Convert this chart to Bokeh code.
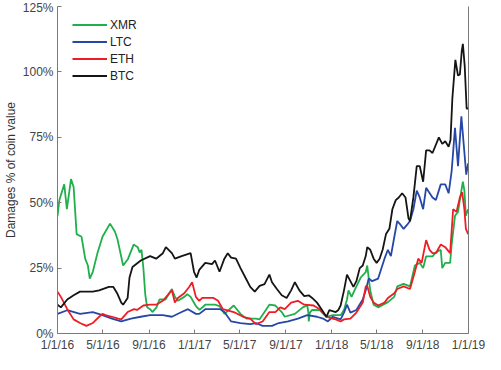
import pandas as pd
from bokeh.plotting import figure
from bokeh.models import (Range1d, FixedTicker, CustomJSTickFormatter, LinearAxis,
                          Legend, LegendItem)
from bokeh.embed import file_html
from bokeh.resources import INLINE

# ---------------- data (percent of coin value) ----------------
xmr_dates = ["2016-01-01","2016-01-06","2016-01-19","2016-01-26","2016-02-06","2016-02-13","2016-02-21",
             "2016-03-05","2016-03-15","2016-03-22","2016-03-27","2016-04-04","2016-04-17","2016-04-30",
             "2016-05-20","2016-06-02","2016-06-09","2016-06-24","2016-07-07","2016-07-22","2016-08-02",
             "2016-08-07","2016-08-12","2016-08-17","2016-08-22","2016-08-27","2016-09-04","2016-09-10",
             "2016-09-21","2016-09-29","2016-10-15","2016-11-01","2016-11-09","2016-11-17","2016-12-04",
             "2016-12-12","2016-12-21","2017-01-04","2017-01-14","2017-01-29","2017-02-24","2017-03-08",
             "2017-03-21","2017-04-15","2017-05-03","2017-05-19","2017-06-13","2017-06-23","2017-07-19",
             "2017-08-04","2017-08-21","2017-08-29","2017-09-25","2017-10-16","2017-10-28","2017-10-31",
             "2017-11-01","2017-11-04","2017-11-10","2017-11-30","2017-12-18","2018-01-04","2018-01-25",
             "2018-02-03","2018-02-11","2018-02-15","2018-02-23","2018-03-08","2018-03-20","2018-04-02",
             "2018-04-06","2018-04-10","2018-04-14","2018-04-23","2018-05-05","2018-05-31","2018-06-17",
             "2018-06-25","2018-07-12","2018-07-29","2018-08-11","2018-08-24","2018-09-02","2018-09-10",
             "2018-09-27","2018-10-06","2018-10-19","2018-10-23","2018-10-31","2018-11-13","2018-11-17",
             "2018-11-26","2018-12-04","2018-12-13","2018-12-17","2018-12-21","2018-12-25","2018-12-31"]
xmr_vals = [45, 51, 57, 47.5, 59, 56, 38, 37, 28.5, 26, 21, 23.5, 31, 37, 42, 39, 36, 26, 28.5, 34,
            33, 31, 32, 25, 15, 10, 9.3, 8.2, 10, 13, 13, 17, 14, 12.5, 14, 15, 14, 10.5, 9, 11,
            11, 10.5, 7.5, 10.7, 7.5, 5.7, 5.7, 5.4, 11, 10.7, 8.2, 6.4, 7.5, 10, 10.7, 8, 4.6, 8, 9, 8.9,
            6.4, 7, 7, 9, 13, 16.5, 14, 18, 21.5, 23.5, 26, 21, 16.5, 11, 10, 12, 14, 18, 19, 18,
            26, 27, 25, 29.5, 29.5, 31, 32, 25, 27, 27, 34, 45, 46.5, 54.6, 58, 54.6, 45, 47.5]

ltc_dates = ["2016-01-01","2016-01-27","2016-03-01","2016-04-04","2016-04-30","2016-05-25","2016-06-19",
             "2016-07-15","2016-08-10","2016-09-04","2016-10-08","2016-11-01","2016-11-27","2016-12-14",
             "2017-01-04","2017-01-13","2017-01-29","2017-03-10","2017-03-21","2017-04-08","2017-05-03",
             "2017-05-29","2017-06-13","2017-07-01","2017-07-26","2017-08-13","2017-09-07","2017-10-03",
             "2017-10-28","2017-11-23","2017-12-09","2017-12-22","2018-01-04","2018-01-25","2018-02-03",
             "2018-02-11","2018-02-20","2018-03-08","2018-03-25","2018-04-02","2018-04-10","2018-04-19",
             "2018-05-05","2018-05-22","2018-05-31","2018-06-08","2018-06-17","2018-06-25","2018-07-04",
             "2018-07-12","2018-07-21","2018-07-29","2018-08-07","2018-08-16","2018-08-24","2018-09-02",
             "2018-09-10","2018-09-27","2018-10-06","2018-10-19","2018-10-31","2018-11-09","2018-11-17",
             "2018-11-26","2018-12-04","2018-12-13","2018-12-26","2018-12-31"]
ltc_vals = [7.5, 8.9, 7.5, 8.2, 7, 5.7, 4.6, 5.7, 6.4, 7, 7, 6.4, 8.2, 9.3,
            7.5, 7.5, 9.3, 9.3, 8.2, 4.6, 4, 3.6, 4, 2.9, 2.9, 4, 4.6, 5.7, 7, 6.4, 5.7, 4.6,
            6.4, 5.4, 8, 11, 8, 9, 13, 16.5, 21, 20, 21, 28.6, 32, 29.6, 36.8, 43, 41.5, 40, 41.5, 43,
            47.5, 54.6, 52, 47.5, 55.7, 52, 51, 57, 57, 53.6, 62, 78.6, 64, 83, 60.7, 65]

eth_dates = ["2016-01-01","2016-01-10","2016-01-27","2016-02-13","2016-03-01","2016-03-18","2016-04-04",
             "2016-04-21","2016-04-30","2016-05-08","2016-05-25","2016-06-11","2016-06-19","2016-07-06",
             "2016-07-23","2016-07-31","2016-08-17","2016-09-04","2016-09-20","2016-10-08","2016-10-25",
             "2016-11-01","2016-11-09","2016-11-17","2016-12-04","2016-12-17","2016-12-25","2017-01-04",
             "2017-01-13","2017-01-21","2017-02-20","2017-03-04","2017-03-17","2017-04-15","2017-05-10",
             "2017-05-29","2017-06-13","2017-07-01","2017-07-19","2017-08-04","2017-08-17","2017-08-29",
             "2017-09-15","2017-10-03","2017-10-20","2017-11-14","2017-11-30","2017-12-18","2018-01-04",
             "2018-01-12","2018-01-25","2018-02-03","2018-02-20","2018-03-08","2018-03-25","2018-04-02",
             "2018-04-06","2018-04-14","2018-04-23","2018-05-05","2018-05-22","2018-05-31","2018-06-17",
             "2018-06-25","2018-07-12","2018-07-29","2018-08-11","2018-08-20","2018-08-29","2018-09-10",
             "2018-09-19","2018-09-27","2018-10-06","2018-10-19","2018-10-31","2018-11-13","2018-11-21",
             "2018-11-30","2018-12-09","2018-12-15","2018-12-21","2018-12-25","2018-12-31"]
eth_vals = [16, 14, 9.3, 5.4, 4, 2.9, 4, 6.4, 7.5, 7, 6.4, 5.7, 5.4, 8.2, 9.3, 9, 10.7, 11, 11, 12.5,
            15.4, 16.5, 11.8, 13.6, 15.4, 17.8, 19.6, 14, 12.5, 13.6, 13.6, 12.5, 9.3, 8.2, 6.4, 5.7,
            3.6, 4.6, 8.2, 8.2, 10, 9.3, 11.8, 12.5, 11, 10.7, 9.3, 6.4, 5.7, 5.4, 4.6, 5.4, 5.7, 8,
            11.8, 18, 18.2, 14, 11.8, 10.7, 11.8, 13.6, 15.4, 17, 18, 17, 23.6, 28.6, 27, 35.7, 32,
            30.7, 30.7, 34, 33, 30.7, 47.5, 46.5, 52, 54, 47.5, 40, 38]

btc_dates = ["2016-01-01","2016-01-10","2016-01-27","2016-02-13","2016-03-01","2016-04-04","2016-04-21",
             "2016-05-17","2016-05-29","2016-06-08","2016-06-19","2016-06-24","2016-07-06","2016-07-11",
             "2016-07-19","2016-08-10","2016-09-04","2016-09-20","2016-10-08","2016-10-16","2016-11-01",
             "2016-11-09","2016-11-27","2016-12-21","2016-12-30","2017-01-06","2017-01-13","2017-01-29",
             "2017-02-16","2017-02-24","2017-03-08","2017-03-21","2017-03-30","2017-04-08","2017-04-21",
             "2017-05-03","2017-05-16","2017-05-29","2017-06-10","2017-06-23","2017-07-06","2017-07-19",
             "2017-07-26","2017-08-08","2017-08-21","2017-09-03","2017-09-15","2017-09-25","2017-10-07",
             "2017-10-20","2017-11-01","2017-11-10","2017-11-23","2017-12-05","2017-12-18","2017-12-26",
             "2018-01-12","2018-01-19","2018-01-25","2018-02-03","2018-02-11","2018-02-20","2018-02-28",
             "2018-03-08","2018-03-17","2018-03-25","2018-04-02","2018-04-06","2018-04-14","2018-04-23",
             "2018-05-01","2018-05-09","2018-05-17","2018-05-26","2018-06-04","2018-06-12","2018-06-21",
             "2018-06-29","2018-07-08","2018-07-17","2018-07-25","2018-07-29","2018-08-07","2018-08-16",
             "2018-08-24","2018-09-02","2018-09-10","2018-09-19","2018-09-27","2018-10-14","2018-10-23",
             "2018-10-31","2018-11-09","2018-11-14","2018-11-19","2018-11-27","2018-12-04","2018-12-09",
             "2018-12-14","2018-12-17","2018-12-22","2018-12-27","2018-12-31"]
btc_vals = [11, 10, 13, 14.6, 16, 16, 16.5, 17.8, 17.8, 15.4, 11.8, 11, 13.6, 21.4, 25.4, 27.9, 29.6,
            28.6, 30.7, 33, 30.7, 28.6, 29.6, 30.7, 23.6, 21.4, 24.3, 27, 26.5, 27.9, 23.6, 28.6, 30.7,
            29, 28.6, 25, 21.4, 17.8, 16, 18.2, 18.9, 22.5, 19.6, 17, 14.6, 13.6, 16.5, 19.6, 16.5, 14.3,
            14.6, 13.6, 11.8, 9.3, 6.4, 8.9, 8.2, 9, 10.7, 16.5, 22.5, 20, 17.8, 20, 25, 26, 29.6, 33,
            32, 28.6, 27, 28.6, 32, 38, 40, 47.5, 51, 52, 53.6, 52, 44, 43, 52, 64, 64, 58, 70, 70, 69,
            75, 72.5, 73.5, 71.4, 74, 90, 104.6, 98.6, 99, 108, 110.7, 102, 86, 86]

series_names = ["XMR", "LTC", "ETH", "BTC"]
x_tick_dates = ["2016-01-01","2016-05-01","2016-09-01","2017-01-01","2017-05-01","2017-09-01",
                "2018-01-01","2018-05-01","2018-09-01","2019-01-01"]
y_ticks = [0, 25, 50, 75, 100, 125]

# ---------------- figure ----------------
def ms(s):
    return pd.Timestamp(s).value // 10**6

p = figure(width=485, height=354, output_backend="svg", toolbar_location=None,
           x_range=Range1d(ms("2016-01-01"), ms("2019-01-01")), y_range=Range1d(0, 125),
           x_axis_type="datetime",
           min_border_left=53, min_border_right=17, min_border_top=6, min_border_bottom=18)
p.xgrid.visible = False
p.ygrid.visible = False
p.outline_line_color = None
p.background_fill_color = "white"
p.border_fill_color = "white"

FONT = "Liberation Sans"
AX = "#7a7a7a"
LBL = "#444444"

xa = p.xaxis[0]
xa.ticker = FixedTicker(ticks=[ms(d) for d in x_tick_dates])
xa.formatter = CustomJSTickFormatter(code="""
const d = new Date(tick);
return (d.getUTCMonth()+1) + '/' + d.getUTCDate() + '/' + String(d.getUTCFullYear()).slice(2);
""")
ya = p.yaxis[0]
ya.ticker = FixedTicker(ticks=y_ticks)
ya.formatter = CustomJSTickFormatter(code="return tick + '%';")
ya.axis_label = "Damages % of coin value"
ya.axis_label_text_font = FONT
ya.axis_label_text_font_size = "12px"
ya.axis_label_text_font_style = "normal"
ya.axis_label_text_color = "#333333"
ya.axis_label_standoff = 2

for ax in (xa, ya):
    ax.axis_line_color = AX
    ax.axis_line_width = 1
    ax.major_tick_line_color = AX
    ax.major_tick_in = 4
    ax.major_tick_out = 0
    ax.minor_tick_line_color = None
    ax.major_label_text_font = FONT
    ax.major_label_text_font_size = "12px"
    ax.major_label_text_color = LBL
    ax.major_label_standoff = 4

right = LinearAxis(ticker=FixedTicker(ticks=[]), axis_line_color=AX,
                   major_tick_line_color=None, minor_tick_line_color=None,
                   major_label_text_font_size="0px")
p.add_layout(right, "right")

colors = {"XMR": "#1faf4b", "LTC": "#2747a8", "ETH": "#ee1d23", "BTC": "#151515"}
data = {"XMR": (xmr_dates, xmr_vals), "LTC": (ltc_dates, ltc_vals),
        "ETH": (eth_dates, eth_vals), "BTC": (btc_dates, btc_vals)}

items = []
for name in series_names:
    d, v = data[name]
    r = p.line(pd.to_datetime(d), v, line_color=colors[name], line_width=1.8)
    items.append(LegendItem(label=name, renderers=[r]))

legend = Legend(items=items, location=(15, 250), margin=0, padding=0,
                border_line_color=None, background_fill_alpha=0,
                glyph_width=35, glyph_height=15, label_height=15, spacing=2,
                label_standoff=3, label_text_font=FONT, label_text_font_size="12px",
                label_text_color="#222222")
p.add_layout(legend)

open("out.html", "w").write(file_html(p, INLINE))
